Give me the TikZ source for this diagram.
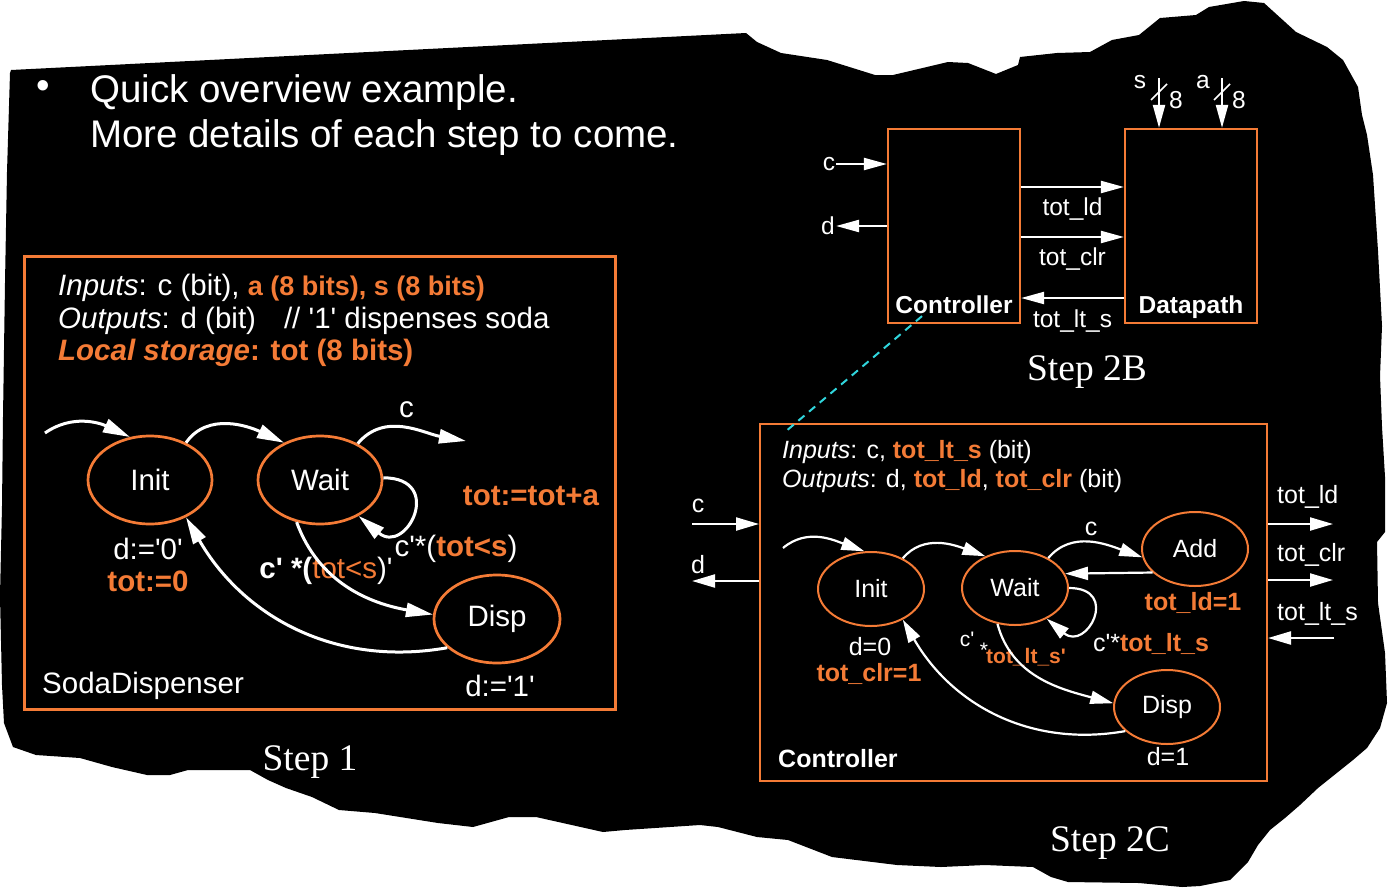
\documentclass[tikz,border=0pt]{standalone}
\usepackage{fontspec}
\setmainfont{Liberation Sans}
\newfontfamily\stepfont{Liberation Serif}
\usepackage{tikz}
\usetikzlibrary{positioning,arrows.meta,calc,shapes.geometric}
\definecolor{cOrng}{HTML}{F47B36}
\definecolor{cCyan}{HTML}{30D5DC}
\newcommand{\orng}[1]{\textcolor{cOrng}{\bfseries #1}}
\newcommand{\sq}{\textquotesingle}
\tikzset{
  big/.style={text=white,inner sep=0pt,font=\fontsize{38.5}{45}\selectfont},
  txtA/.style={text=white,inner sep=0pt,font=\fontsize{29.5}{33}\selectfont},
  txtB/.style={text=white,inner sep=1pt,font=\fontsize{24.5}{27}\selectfont},
  txtC/.style={text=white,inner sep=0pt,font=\fontsize{25}{28}\selectfont},
  stepcap/.style={text=white,inner sep=0pt,font=\stepfont\fontsize{37.5}{40}\selectfont},
  blk/.style={rectangle,draw=cOrng,inner sep=0pt},
  stA/.style={ellipse,draw=cOrng,line width=2.7pt,minimum width=124pt,minimum height=88pt,inner sep=0pt,text=white,font=\fontsize{29.5}{31}\selectfont},
  stC/.style={stA,line width=2pt,minimum width=106pt,minimum height=74pt,font=\fontsize{25}{27}\selectfont},
  arrA/.style={-{Triangle[length=27pt,width=14pt]},white,line width=3pt},
  arrB/.style={-{Triangle[length=23pt,width=12pt]},white,line width=2.2pt},
  arrC/.style={-{Triangle[length=23pt,width=13pt]},white,line width=2.2pt}}
\begin{document}
\begin{tikzpicture}[x=1pt,y=1pt]
\useasboundingbox (0,0) rectangle (1388,-889);
\fill[white] (0,0) rectangle (1388,-889);
% torn sheet
\fill[black] (11,-70) -- (746,-33) -- (757,-42) -- (781,-53) -- (827,-60) -- (875,-75) -- (893,-75)
  -- (948,-62) -- (968,-63) -- (996,-74) -- (1018,-65) -- (1020,-57) -- (1057,-53) -- (1090,-52)
  -- (1112,-40) -- (1139,-35) -- (1160,-18) -- (1196,-15) -- (1209,-7) -- (1244,-1) -- (1264,-3)
  -- (1296,-32) -- (1327,-47) -- (1343,-60) -- (1358,-87) -- (1362,-115) -- (1367,-135) -- (1373,-175)
  -- (1378,-251) -- (1382,-326) -- (1380,-376) -- (1382,-427) -- (1385,-477) -- (1385,-532) -- (1377,-542)
  -- (1378,-603) -- (1385,-653) -- (1387,-703) -- (1380,-728) -- (1367,-748) -- (1353,-760) -- (1338,-772)
  -- (1318,-788) -- (1300,-805) -- (1285,-818) -- (1270,-830) -- (1258,-845) -- (1248,-862) -- (1230,-880)
  -- (1200,-886) -- (1182,-887) -- (1139,-883) -- (1068,-882) -- (1051,-877) -- (1033,-867) -- (985,-865)
  -- (941,-867) -- (897,-865) -- (832,-857) -- (788,-840) -- (757,-837) -- (718,-827) -- (700,-825)
  -- (670,-827) -- (625,-830) -- (603,-832) -- (536,-817) -- (509,-817) -- (473,-827) -- (438,-823)
  -- (375,-813) -- (339,-810) -- (312,-797) -- (286,-788) -- (268,-780) -- (250,-770) -- (188,-770)
  -- (170,-775) -- (147,-775) -- (112,-767) -- (80,-758) -- (36,-755) -- (13,-747) -- (4,-723)
  -- (2,-685) -- (0,-596) -- (2,-506) -- (3,-417) -- (5,-283) -- (7,-172) -- (10,-73) -- cycle;

\node[big] (bul) at (43,-90) {\textbullet};
\node[big,anchor=base west] (line1) at (90,-102) {Quick overview example.};
\node[big,anchor=base west] (line2) at (90,-147) {More details of each step to come.};

% Step 1
\node[blk,line width=3pt,minimum width=591pt,minimum height=453pt] (box1) at (319.5,-482.5) {};
\node[txtA,anchor=base west] (in1) at (58,-295) {\textit{Inputs}: c (bit), \orng{\fontsize{27}{33}\selectfont a (8 bits), s (8 bits)}};
\node[txtA,anchor=base west] (out1) at (58,-328) {\textit{Outputs}: d (bit)\hspace{28pt}// \sq1\sq{} dispenses soda};
\node[txtA,anchor=base west] (loc1) at (58,-360) {\orng{\textit{Local storage}: tot (8 bits)}};
\node[stA] (init1) at (150,-480) {Init};
\node[stA] (wait1) at (320,-480) {Wait};
\node[stA,minimum width=126pt] (disp1) at (497,-619) {Disp};
\node[txtA] (init1o) at (148,-549) {d:=\sq0\sq};
\node[txtA] (init1t) at (148,-581) {\orng{tot:=0}};
\node[txtA] (disp1o) at (500,-686) {d:=\sq1\sq};
\node[txtA,anchor=west] (name1) at (42,-686) {SodaDispenser};
\node[txtA] (add1) at (531,-496) {\orng{tot:=tot+a}};
\node[txtA] (loop1l) at (456,-549) {c\sq*(\orng{tot<s})};
\node[txtA] (wd1l) at (326,-571) {{\bfseries c\sq{} *(}\textcolor{cOrng}{tot<s})\sq};
\coordinate (s1start) at (45,-433);
\coordinate (add1in) at (466,-441);
\draw[arrA] (s1start) to[out=35,in=155] (init1.115);
\draw[arrA] (init1.46) to[out=55,in=155] (wait1.134);
\draw[arrA] (wait1.44) to[out=50,in=170] node[txtA,above=8pt]{c} (add1in);
\draw[arrA] (wait1.2) to[out=0,in=-40,looseness=3.5] (wait1.-43);
\draw[arrA] (wait1.-119) to[out=-70,in=170] (disp1.176);
\draw[arrA] (disp1.-150) to[out=190,in=-60] (init1.-46);
\node[stepcap] (cap1) at (310,-762) {Step 1};

% Step 2B
\node[blk,line width=2.2pt,minimum width=132pt,minimum height=194pt] (ctrlB) at (954,-226) {};
\node[blk,line width=2.2pt,minimum width=132pt,minimum height=194pt] (dpB) at (1191,-226) {};
\node[txtB,anchor=base] (ctrlBl) at ([yshift=11pt]ctrlB.south) {\bfseries Controller};
\node[txtB,anchor=base] (dpBl) at ([yshift=11pt]dpB.south) {\bfseries Datapath};
\node[txtB] (cB) at (829,-164) {c};
\node[txtB] (dB) at (828,-226) {d};
\draw[arrB] (cB.east) -- (cB.east -| ctrlB.west);
\draw[arrB] (dB.east -| ctrlB.west) -- (dB.east);
\draw[arrB] ([yshift=39pt]ctrlB.east) -- node[txtB,below=9pt]{tot\_ld} ([yshift=39pt]dpB.west);
\draw[arrB] ([yshift=-11pt]ctrlB.east) -- node[txtB,below=9pt]{tot\_clr} ([yshift=-11pt]dpB.west);
\draw[arrB] ([yshift=-72pt]dpB.west) -- node[txtB,below=10pt]{tot\_lt\_s} ([yshift=-72pt]ctrlB.east);
\coordinate (sB) at (1159,-78);
\coordinate (aB) at (1222,-78);
\draw[arrB] (sB) -- (sB |- dpB.north);
\draw[arrB] (aB) -- (aB |- dpB.north);
\draw[white,line width=1.5pt] ([shift={(-8,-22)}]sB) -- ([shift={(8,-6)}]sB);
\draw[white,line width=1.5pt] ([shift={(-8,-22)}]aB) -- ([shift={(8,-6)}]aB);
\node[txtB] (sBl) at (1140,-82) {s};
\node[txtB] (sBw) at (1176,-100) {8};
\node[txtB] (aBl) at (1203,-82) {a};
\node[txtB] (aBw) at (1239,-100) {8};
\node[stepcap] (cap2b) at (1087,-372) {Step 2B};

% Step 2C
\node[blk,line width=2pt,minimum width=507pt,minimum height=357pt] (box2c) at (1013.5,-602.5) {};
\draw[cCyan,line width=2pt,dash pattern=on 8pt off 6pt] ([shift={(-32,8)}]ctrlB.south) -- ([shift={(26,-9)}]box2c.north west);
\node[txtC,anchor=base west] (in2c) at (782,-458) {\textit{Inputs}: c, \orng{tot\_lt\_s} (bit)};
\node[txtC,anchor=base west] (out2c) at (782,-487) {\textit{Outputs}: d, \orng{tot\_ld}, \orng{tot\_clr} (bit)};
\node[txtC] (cC) at (698,-506) {c};
\node[txtC] (dC) at (698,-565) {d};
\coordinate (cCin) at (692,-524);
\coordinate (dCout) at (692,-581);
\draw[arrC] (cCin) -- (cCin -| box2c.west);
\draw[arrC] (dCout -| box2c.west) -- (dCout);
\coordinate (ldC) at (1333,-524);
\coordinate (clrC) at (1333,-580);
\coordinate (ltC) at (1334,-638);
\draw[arrC] (ldC -| box2c.east) -- (ldC);
\draw[arrC] (clrC -| box2c.east) -- (clrC);
\draw[arrC] (ltC) -- (ltC -| box2c.east);
\node[txtC,anchor=west] (ldCl) at (1277,-497) {tot\_ld};
\node[txtC,anchor=west] (clrCl) at (1277,-555) {tot\_clr};
\node[txtC,anchor=west] (ltCl) at (1277,-614) {tot\_lt\_s};
\node[stC] (init2) at (871,-589) {Init};
\node[stC] (wait2) at (1015,-588) {Wait};
\node[stC] (add2) at (1195,-549) {Add};
\node[stC] (disp2) at (1167,-707) {Disp};
\node[txtC] (init2o) at (870,-647) {d=0};
\node[txtC] (init2t) at (869,-674) {\orng{tot\_clr=1}};
\node[txtC] (add2o) at (1193,-603) {\orng{tot\_ld=1}};
\node[txtC] (disp2o) at (1168,-757) {d=1};
\node[txtC,anchor=base west] (name2) at (778,-767) {\bfseries Controller};
\node[txtC] (loop2l) at (1151,-644) {c\sq*\orng{tot\_lt\_s}};
\node[txtC,font=\fontsize{21}{23}\selectfont] (wd2c) at (967,-639) {c\sq};
\node[txtC,font=\fontsize{21}{23}\selectfont] (wd2s) at (984,-650) {*};
\node[txtC,font=\fontsize{21}{23}\selectfont] (wd2l) at (1026,-657) {\orng{tot\_lt\_s\sq}};
\coordinate (s2start) at (783,-548);
\draw[arrC] (s2start) to[out=40,in=160] (init2.100);
\draw[arrC] (init2.44) to[out=50,in=160] (wait2.133);
\draw[arrC] (wait2.42) to[out=50,in=160] node[txtC,above=6pt]{c} (add2.-171);
\draw[arrC] (add2.209) -- (wait2.16);
\draw[arrC] (wait2.0) to[out=0,in=-40,looseness=3.5] (wait2.-44);
\draw[arrC] (wait2.-116) to[out=-75,in=165] (disp2.176);
\draw[arrC] (disp2.-150) to[out=190,in=-60] (init2.-44);
\node[stepcap] (cap2c) at (1110,-843) {Step 2C};
\end{tikzpicture}
\end{document}
